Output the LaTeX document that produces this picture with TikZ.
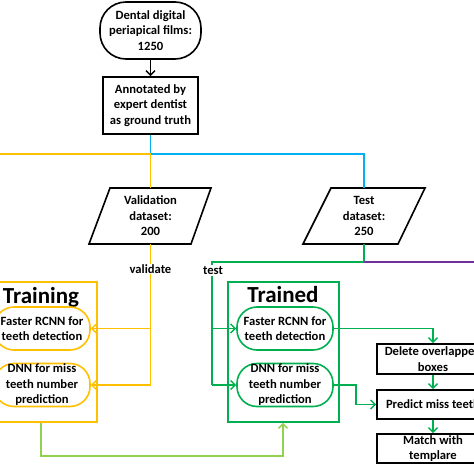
\documentclass[tikz,border=0pt]{standalone}
\usepackage{fontspec}
\setmainfont{Carlito}
\usetikzlibrary{arrows.meta}
\definecolor{cyel}{HTML}{FFC000}
\definecolor{cblue}{HTML}{00B0F0}
\definecolor{cgreen}{HTML}{00B050}
\definecolor{cpurple}{HTML}{7030A0}
\definecolor{clgreen}{HTML}{92D050}
\tikzset{
  box/.style={draw, line width=1.6pt, align=center, inner sep=0pt},
  pill/.style={box, rounded corners=20pt, minimum width=96pt, minimum height=43pt},
  frame/.style={draw, line width=1.6pt, minimum width=111pt, minimum height=140pt},
  title/.style={font=\bfseries\fontsize{23}{26}\selectfont, inner sep=0pt},
  lbl/.style={fill=white, inner sep=1pt},
  arr/.style={-{Straight Barb[length=4.5pt,width=9pt,line width=1.4pt]}},
  ln/.style={line width=1.4pt},
  rbox/.style={box, minimum width=112pt},
}
\begin{document}
\begin{tikzpicture}[x=1pt,y=-1pt,font=\bfseries\fontsize{12.6}{15.5}\selectfont]
\path[use as bounding box, clip] (0,0) rectangle (474,474);
\fill[white] (0,0) rectangle (474,474);

% top nodes
\node[box, rounded corners=26pt, minimum width=101pt, minimum height=57pt] (start) at (150.5,30.5)
  {Dental digital\\periapical films:\\1250};
\node[box, minimum width=95pt, minimum height=57pt] (annot) at (150.5,105.5)
  {Annotated by\\expert dentist\\as ground truth};

% parallelograms
\draw[line width=1.6pt, line join=miter] (110,188) -- (211,188) -- (191,244) -- (89,244) -- cycle;
\node[align=center, inner sep=0pt, minimum width=80pt, minimum height=56pt] (val) at (150.5,216)
  {Validation\\dataset:\\200};
\draw[line width=1.6pt, line join=miter] (331,188) -- (425,188) -- (398,244) -- (303,244) -- cycle;
\node[align=center, inner sep=0pt, minimum width=80pt, minimum height=56pt] (test) at (364,216)
  {Test\\dataset:\\250};

% training / trained frames
\node[frame, draw=cyel] (trainbox) at (41.5,352) {};
\node[title] (traintitle) at (41,297) {Training};
\node[pill, draw=cyel] (tfrcnn) at (42,328.5) {Faster RCNN for\\teeth detection};
\node[pill, draw=cyel] (tdnn) at (42,385) {DNN for miss\\teeth number\\prediction};

\node[frame, draw=cgreen] (trainedbox) at (283.5,352) {};
\node[title] (trainedtitle) at (283,295) {Trained};
\node[pill, draw=cgreen] (gfrcnn) at (285,328.5) {Faster RCNN for\\teeth detection};
\node[pill, draw=cgreen] (gdnn) at (285,385) {DNN for miss\\teeth number\\prediction};

% right boxes
\node[rbox, minimum height=30pt] (del) at (433,359) {Delete overlapped\\boxes};
\node[rbox, minimum height=29pt] (pred) at (433,404.5) {Predict miss teeth};
\node[rbox, minimum height=29pt] (match) at (433,448.5) {Match with\\templare};

% coordinates
\coordinate (split) at (150.5,154);
\coordinate (bluecorner) at (364,154);
\coordinate (yleft) at (-20,154);
\coordinate (ybranch1) at (150.5,328.5);
\coordinate (ybranch2) at (150.5,385);
\coordinate (gsplit) at (364,262);
\coordinate (gleft) at (212,262);
\coordinate (gbranch1) at (212,328.5);
\coordinate (gbranch2) at (212,385);
\coordinate (pright) at (494,262);

% black arrow
\draw[ln, arr] (start) -- (annot);

% blue & yellow
\draw[ln, cblue] (annot.south) -- (split) -- (bluecorner) -- (test.north);
\draw[ln, cyel] (yleft) -- (split) -- (val.north);
\draw[ln, cyel] (val.south) -- (ybranch2);
\draw[ln, cyel, arr] (ybranch1) -- (tfrcnn.east);
\draw[ln, cyel, arr] (ybranch2) -- (tdnn.east);
\node[lbl] (vlabel) at (150.5,269) {validate};

% green & purple
\draw[ln, cgreen] (test.south) -- (gsplit) -- (gleft) -- (gbranch2);
\draw[ln, cpurple] (gsplit) -- (pright);
\draw[ln, cgreen, arr] (gbranch1) -- (gfrcnn.west);
\draw[ln, cgreen, arr] (gbranch2) -- (gdnn.west);
\node[lbl] (tlabel) at (213,270.5) {test};

\draw[ln, cgreen, arr] (gfrcnn.east) -| (del.north);
\draw[ln, cgreen, arr] (del) -- (pred);
\draw[ln, cgreen, arr] (pred) -- (match);
\draw[ln, cgreen, arr] (gdnn.east) -- (356,385) |- (pred.west);

% light green
\draw[ln, clgreen, arr] (trainbox.south -| traintitle) |- (283,456) -- (trainedbox.south -| 283,0);
\end{tikzpicture}
\end{document}
